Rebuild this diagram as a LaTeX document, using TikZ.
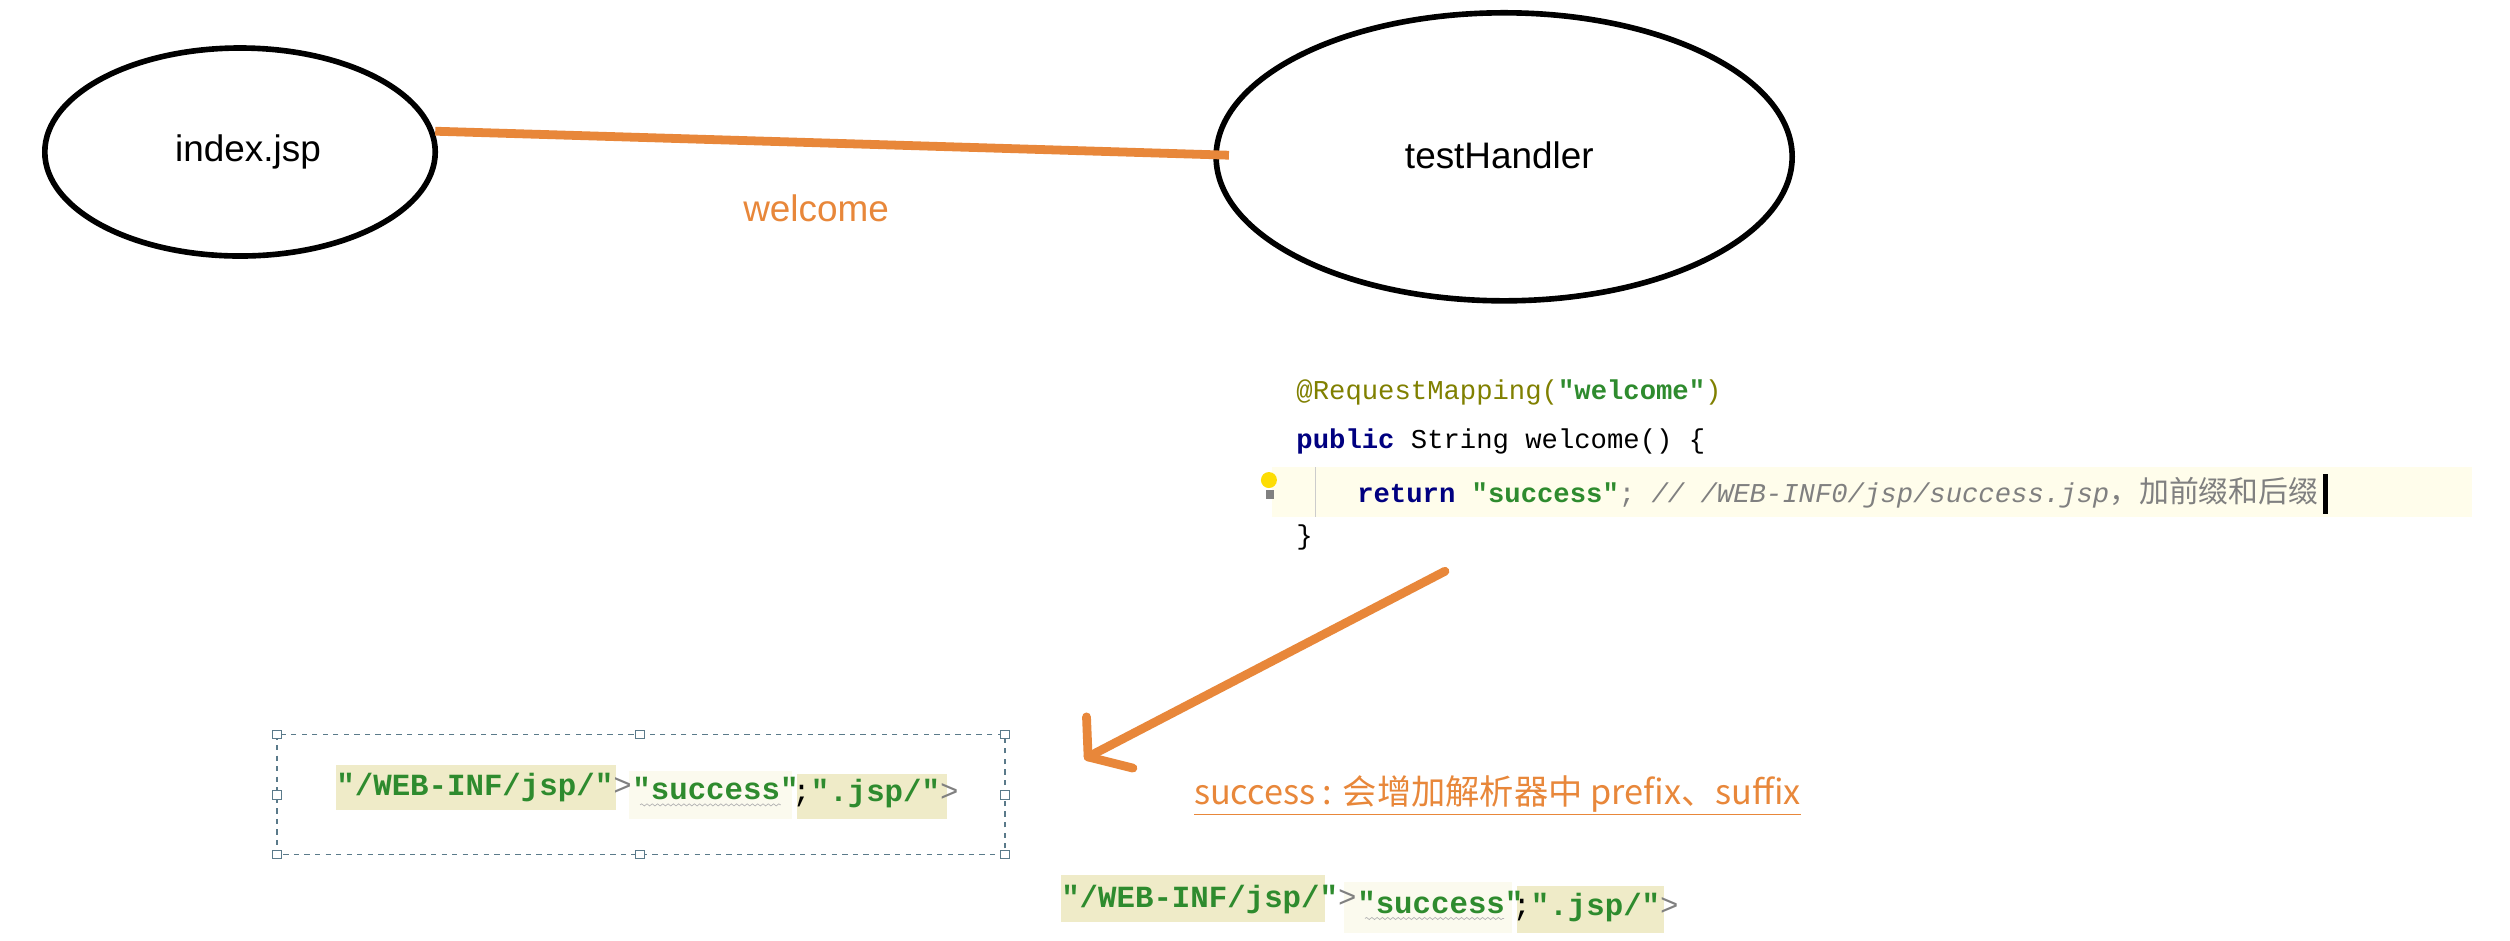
\documentclass[tikz,border=0pt]{standalone}
\usepackage{fontspec}
\usetikzlibrary{decorations.pathmorphing}
\setmainfont{Liberation Sans}
\setmonofont{Liberation Mono}
\newfontfamily\cjk{Noto Sans CJK SC}
\definecolor{org}{HTML}{E8873A}
\definecolor{kw}{HTML}{000080}
\definecolor{str}{HTML}{2E8B2E}
\definecolor{ann}{HTML}{808000}
\definecolor{cmt}{HTML}{808080}
\definecolor{hl}{HTML}{EFEBC8}
\definecolor{hl2}{HTML}{FBFAEE}
\definecolor{rowhl}{HTML}{FFFDEB}
\definecolor{sel}{HTML}{5A7A8A}
\begin{document}
\begin{tikzpicture}[x=0.032cm,y=-0.032cm,
  lbl/.style={font=\fontsize{21}{25}\selectfont},
  code/.style={font=\fontsize{15.5}{18}\selectfont\ttfamily,anchor=west,inner sep=0pt},
  snip/.style={font=\fontsize{17.5}{20}\selectfont\ttfamily\bfseries,text=str,anchor=west,inner sep=0pt},
  squig/.style={cmt!60,line width=0.4pt,decorate,decoration={snake,amplitude=0.6pt,segment length=3pt}},
  handle/.style={draw=sel,fill=white,line width=0.6pt,minimum size=5pt,inner sep=0pt}]
\useasboundingbox (0,0) rectangle (1568.6,587.5);
\fill[white] (0,0) rectangle (1568.6,587.5);
% ellipses
\draw[line width=3.2pt] (150,95) ellipse [x radius=122,y radius=65];
\draw[line width=3.2pt] (940,98) ellipse [x radius=180,y radius=90];
\node[lbl] (a) at (155,95) {index.jsp};
\node[lbl] (b) at (937,97) {testHandler};
\coordinate (ae) at (272,82);
\coordinate (be) at (768,97);
\draw[org,line width=5pt] (ae) -- (be);
\node[lbl,text=org] (w) at (510,130) {welcome};
% code
\fill[rowhl] (795,292) rectangle (1545,323);
\draw[cmt!40,line width=0.5pt] (822,292) -- (822,323);
\fill[yellow!80!orange] (793,300) circle (5);
\fill[gray] (791,306) rectangle (796,312);
\node[code] (c1) at (810,245) {\textcolor{ann}{@RequestMapping(}\textcolor{str}{\bfseries"welcome"}\textcolor{ann}{)}};
\node[code] (c2) at (810,276) {\textcolor{kw}{\bfseries public} String welcome() \{};
\node[code] (c3) at (848,308) {\textcolor{kw}{\bfseries return} \textcolor{str}{\bfseries"success"}\textcolor{cmt}{; \itshape// /WEB-INF0/jsp/success.jsp\upshape\cjk\fontsize{17}{18}\selectfont，加前缀和后缀}};
\fill[black] (1452,296) rectangle (1455,321);
\node[code] (c4) at (810,336) {\}};
% arrow
\coordinate (t0) at (903,357);
\coordinate (t1) at (680,473);
\draw[org,line width=5pt,line cap=round] (t0) -- (t1);
\draw[org,line width=5pt,line cap=round] (t1) -- (708,480);
\draw[org,line width=5pt,line cap=round] (t1) -- (679,448);
% dashed selection box
\draw[sel,dashed,line width=0.9pt] (173,459) rectangle (628,534);
\foreach \p in {(173,459),(400,459),(628,459),(173,497),(628,497),(173,534),(400,534),(628,534)}
  \node[handle] at \p {};
\fill[hl] (210,478) rectangle (385,506);
\fill[hl2] (393,482) rectangle (495,512);
\fill[hl] (498,484) rectangle (592,512);
\node[snip] (s1) at (210,492) {"/WEB-INF/jsp/"\textcolor{cmt}{\mdseries>}};
\node[snip] (s2) at (395,493) {"success"};
\node[snip] (s3) at (495,496) {\textcolor{black}{\mdseries;}".jsp/"\textcolor{cmt}{\mdseries>}};
\draw[squig] (400,503) -- (488,503);
% note
\node[anchor=west,inner sep=0pt,text=org,font=\cjk\fontsize{19.5}{22}\selectfont] (n) at (746,497) {\underline{success : 会增加解析器中 prefix、suffix}};
% bottom copy
\fill[hl] (663,547) rectangle (828,576);
\fill[hl2] (840,551) rectangle (945,583);
\fill[hl] (948,554) rectangle (1040,583);
\node[snip] (b1) at (663,562) {"/WEB-INF/jsp/"\textcolor{cmt}{\mdseries>}};
\node[snip] (b2) at (848,564) {"success"};
\node[snip] (b3) at (945,567) {\textcolor{black}{\mdseries;}".jsp/"\textcolor{cmt}{\mdseries>}};
\draw[squig] (853,574) -- (940,574);
\end{tikzpicture}
\end{document}
